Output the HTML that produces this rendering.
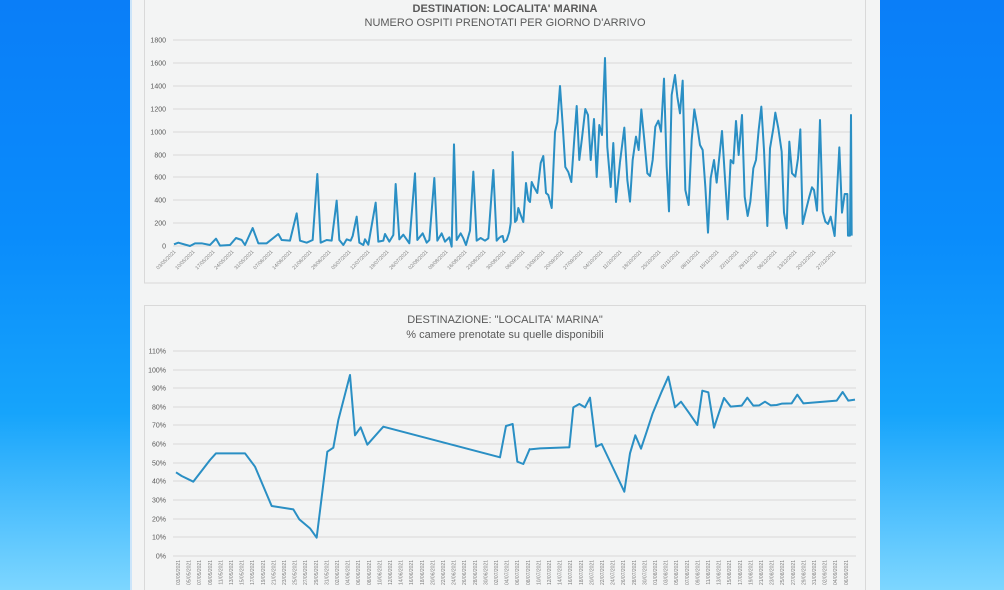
<!DOCTYPE html>
<html><head><meta charset="utf-8"><style>
html,body{margin:0;padding:0}
body{width:1004px;height:590px;overflow:hidden;background:linear-gradient(180deg,#0a7ef8 0%,#0a8cfb 40%,#16a4fb 70%,#7dd6ff 100%);font-family:"Liberation Sans",sans-serif}
svg{position:absolute;left:0;top:0}
</style></head><body>
<svg width="1004" height="590" viewBox="0 0 1004 590">
<rect x="130" y="0" width="750" height="590" fill="#f3f4f4"/>
<line x1="131" y1="0" x2="131" y2="590" stroke="#bfe0fb" stroke-width="1.5"/>
<rect x="144.5" y="-5" width="721" height="288" fill="#f3f4f4" stroke="#d9d9d9"/>
<rect x="144.5" y="305.5" width="721" height="300" fill="#f3f4f4" stroke="#d9d9d9"/>
<g font-family="Liberation Sans, sans-serif" fill="#595959" text-anchor="middle">
<text x="505" y="12" font-size="11" font-weight="bold">DESTINATION: LOCALITA' MARINA</text>
<text x="505" y="26" font-size="11">NUMERO OSPITI PRENOTATI PER GIORNO D'ARRIVO</text>
<text x="505" y="323" font-size="11">DESTINAZIONE: "LOCALITA' MARINA"</text>
<text x="505" y="338" font-size="11">% camere prenotate su quelle disponibili</text>
</g>
<g stroke="#d9d9d9" stroke-width="1">
<line x1="173" x2="852" y1="40" y2="40"/><line x1="173" x2="852" y1="63" y2="63"/><line x1="173" x2="852" y1="86" y2="86"/><line x1="173" x2="852" y1="109" y2="109"/><line x1="173" x2="852" y1="132" y2="132"/><line x1="173" x2="852" y1="155" y2="155"/><line x1="173" x2="852" y1="177" y2="177"/><line x1="173" x2="852" y1="200" y2="200"/><line x1="173" x2="852" y1="223" y2="223"/><line x1="173" x2="852" y1="246" y2="246"/>
<line x1="173" x2="856" y1="351" y2="351"/><line x1="173" x2="856" y1="370" y2="370"/><line x1="173" x2="856" y1="388" y2="388"/><line x1="173" x2="856" y1="407" y2="407"/><line x1="173" x2="856" y1="425" y2="425"/><line x1="173" x2="856" y1="444" y2="444"/><line x1="173" x2="856" y1="463" y2="463"/><line x1="173" x2="856" y1="481" y2="481"/><line x1="173" x2="856" y1="500" y2="500"/><line x1="173" x2="856" y1="519" y2="519"/><line x1="173" x2="856" y1="537" y2="537"/><line x1="173" x2="856" y1="556" y2="556"/>
</g>
<g font-size="7" fill="#595959" text-anchor="end">
<text x="166" y="42.5">1800</text><text x="166" y="65.5">1600</text><text x="166" y="88.5">1400</text><text x="166" y="111.5">1200</text><text x="166" y="134.5">1000</text><text x="166" y="157.5">800</text><text x="166" y="179.5">600</text><text x="166" y="202.5">400</text><text x="166" y="225.5">200</text><text x="166" y="248.5">0</text>
<text x="166" y="353.5">110%</text><text x="166" y="372.5">100%</text><text x="166" y="390.5">90%</text><text x="166" y="409.5">80%</text><text x="166" y="427.5">70%</text><text x="166" y="446.5">60%</text><text x="166" y="465.5">50%</text><text x="166" y="483.5">40%</text><text x="166" y="502.5">30%</text><text x="166" y="521.5">20%</text><text x="166" y="539.5">10%</text><text x="166" y="558.5">0%</text>
</g>
<g fill="none" stroke="#2a8fc4" stroke-width="2" stroke-linejoin="round">
<polyline transform="translate(130,0) scale(0.33333)" vector-effect="non-scaling-stroke" points="132,733 145,728 180,738 195,730 215,730 240,735 258,716 270,737 300,735 318,714 335,720 345,735 368,684 385,730 410,730 445,702 455,720 480,722 500,640 510,722 530,728 548,720 562,522 572,728 590,720 605,722 620,602 628,720 640,735 650,718 662,722 668,708 680,650 688,728 700,735 705,718 715,734 737,608 745,725 760,722 765,702 778,725 790,705 797,552 808,718 820,704 838,730 855,520 862,720 878,700 890,728 898,720 913,534 922,722 935,700 945,725 958,712 965,740 972,433 980,720 992,700 1000,715 1008,735 1020,692 1030,515 1040,722 1052,714 1065,722 1075,715 1090,510 1100,722 1110,711"/>
<polyline points="500,237 502.7,236 504,242 506.7,240 509.3,232 510.7,223 512.7,152 515,222 516.7,220 518.3,208 520.7,215 523.3,222 526,183 528.3,200 530,202 531.7,182 534,187 537.3,193 540.7,163 543.3,156 546,193 548.3,195 551.7,208 555,132 557.3,122 560,86 562.7,125 565.3,167 568.3,172 571.3,182 574,143 576.7,106 579.3,160 582,138 585.3,109 588,115 590.7,160 594,119 596.7,177 599.3,125 602,135 605,58 607.3,147 610.7,187 613.3,143 616,202 620,162"/>
<polyline transform="translate(600,0) scale(0.33333)" vector-effect="non-scaling-stroke" points="60,486 73,383 82,540 90,605 98,480 108,410 116,450 124,328 133,420 142,520 150,528 158,480 166,380 175,362 183,395 192,236 200,500 207,634 215,285 225,225 232,290 240,340 248,242 256,570 266,615 275,420 283,328 292,380 300,435 308,450 316,560 324,698 332,535 342,480 350,548 366,393 374,520 383,658 392,480 400,490 408,363 416,465 426,345 434,590 443,648 451,605 460,505 468,480 476,390 484,320 492,450 502,678 510,445 520,385 526,338 535,385 545,455 552,638 560,685 568,425 576,520 586,530 594,475 601,388 608,672 618,630 628,590 636,562 642,570 651,632 660,360 668,635 676,665 684,672 692,650 704,708 718,442 726,638 734,582 742,582 744,707 750,707 753,345 755,707"/>
<polyline transform="translate(130,290) scale(0.33333)" vector-effect="non-scaling-stroke" points="138,547 155,558 190,575 240,510 258,490 345,490 375,530 425,648 490,658 508,688 540,715 560,743 592,485 610,473 625,390 660,255 675,436 692,412 712,464 760,410 1110,502 1128,408 1148,402 1162,515 1180,522 1200,475"/>
<polyline transform="translate(530,290) scale(0.33333)" vector-effect="non-scaling-stroke" points="0,478 30,475 110,472 118,472 130,352 148,342 165,352 180,323 198,470 215,462 245,525 283,605 300,490 316,436 333,476 350,425 368,370 395,305 415,260 435,352 453,335 478,370 502,405 517,302 535,307 552,413 568,365 582,324 602,350 635,347 652,323 670,347 688,346 705,335 722,346 740,345 755,341 785,340 802,314 820,340 870,336 920,332 938,306 955,332 975,329"/>
</g>
<g font-size="5" fill="#7f7f7f" text-anchor="end">
<text transform="translate(176,252) rotate(-45)">03/05/2021</text><text transform="translate(195,252) rotate(-45)">10/05/2021</text><text transform="translate(215,252) rotate(-45)">17/05/2021</text><text transform="translate(234,252) rotate(-45)">24/05/2021</text><text transform="translate(254,252) rotate(-45)">31/05/2021</text><text transform="translate(273,252) rotate(-45)">07/06/2021</text><text transform="translate(292,252) rotate(-45)">14/06/2021</text><text transform="translate(312,252) rotate(-45)">21/06/2021</text><text transform="translate(331,252) rotate(-45)">28/06/2021</text><text transform="translate(351,252) rotate(-45)">05/07/2021</text><text transform="translate(370,252) rotate(-45)">12/07/2021</text><text transform="translate(389,252) rotate(-45)">19/07/2021</text><text transform="translate(409,252) rotate(-45)">26/07/2021</text><text transform="translate(428,252) rotate(-45)">02/08/2021</text><text transform="translate(448,252) rotate(-45)">09/08/2021</text><text transform="translate(467,252) rotate(-45)">16/08/2021</text><text transform="translate(486,252) rotate(-45)">23/08/2021</text><text transform="translate(506,252) rotate(-45)">30/08/2021</text><text transform="translate(525,252) rotate(-45)">06/09/2021</text><text transform="translate(545,252) rotate(-45)">13/09/2021</text><text transform="translate(564,252) rotate(-45)">20/09/2021</text><text transform="translate(583,252) rotate(-45)">27/09/2021</text><text transform="translate(603,252) rotate(-45)">04/10/2021</text><text transform="translate(622,252) rotate(-45)">11/10/2021</text><text transform="translate(642,252) rotate(-45)">18/10/2021</text><text transform="translate(661,252) rotate(-45)">25/10/2021</text><text transform="translate(680,252) rotate(-45)">01/11/2021</text><text transform="translate(700,252) rotate(-45)">08/11/2021</text><text transform="translate(719,252) rotate(-45)">15/11/2021</text><text transform="translate(739,252) rotate(-45)">22/11/2021</text><text transform="translate(758,252) rotate(-45)">29/11/2021</text><text transform="translate(777,252) rotate(-45)">06/12/2021</text><text transform="translate(797,252) rotate(-45)">13/12/2021</text><text transform="translate(816,252) rotate(-45)">20/12/2021</text><text transform="translate(836,252) rotate(-45)">27/12/2021</text>
</g>
<g font-size="5" fill="#7f7f7f" text-anchor="end">
<text transform="translate(180,560) rotate(-90)">03/05/2021</text><text transform="translate(190.6,560) rotate(-90)">05/05/2021</text><text transform="translate(201.2,560) rotate(-90)">07/05/2021</text><text transform="translate(211.8,560) rotate(-90)">09/05/2021</text><text transform="translate(222.4,560) rotate(-90)">11/05/2021</text><text transform="translate(233,560) rotate(-90)">13/05/2021</text><text transform="translate(243.6,560) rotate(-90)">15/05/2021</text><text transform="translate(254.2,560) rotate(-90)">17/05/2021</text><text transform="translate(264.8,560) rotate(-90)">19/05/2021</text><text transform="translate(275.4,560) rotate(-90)">21/05/2021</text><text transform="translate(286,560) rotate(-90)">23/05/2021</text><text transform="translate(296.6,560) rotate(-90)">25/05/2021</text><text transform="translate(307.2,560) rotate(-90)">27/05/2021</text><text transform="translate(317.8,560) rotate(-90)">29/05/2021</text><text transform="translate(328.4,560) rotate(-90)">31/05/2021</text><text transform="translate(339,560) rotate(-90)">02/06/2021</text><text transform="translate(349.6,560) rotate(-90)">04/06/2021</text><text transform="translate(360.2,560) rotate(-90)">06/06/2021</text><text transform="translate(370.8,560) rotate(-90)">08/06/2021</text><text transform="translate(381.4,560) rotate(-90)">10/06/2021</text><text transform="translate(392,560) rotate(-90)">12/06/2021</text><text transform="translate(402.6,560) rotate(-90)">14/06/2021</text><text transform="translate(413.2,560) rotate(-90)">16/06/2021</text><text transform="translate(423.8,560) rotate(-90)">18/06/2021</text><text transform="translate(434.4,560) rotate(-90)">20/06/2021</text><text transform="translate(445,560) rotate(-90)">22/06/2021</text><text transform="translate(455.6,560) rotate(-90)">24/06/2021</text><text transform="translate(466.2,560) rotate(-90)">26/06/2021</text><text transform="translate(476.8,560) rotate(-90)">28/06/2021</text><text transform="translate(487.4,560) rotate(-90)">30/06/2021</text><text transform="translate(498,560) rotate(-90)">02/07/2021</text><text transform="translate(508.6,560) rotate(-90)">04/07/2021</text><text transform="translate(519.2,560) rotate(-90)">06/07/2021</text><text transform="translate(529.8,560) rotate(-90)">08/07/2021</text><text transform="translate(540.4,560) rotate(-90)">10/07/2021</text><text transform="translate(551,560) rotate(-90)">12/07/2021</text><text transform="translate(561.6,560) rotate(-90)">14/07/2021</text><text transform="translate(572.2,560) rotate(-90)">16/07/2021</text><text transform="translate(582.8,560) rotate(-90)">18/07/2021</text><text transform="translate(593.4,560) rotate(-90)">20/07/2021</text><text transform="translate(604,560) rotate(-90)">22/07/2021</text><text transform="translate(614.6,560) rotate(-90)">24/07/2021</text><text transform="translate(625.2,560) rotate(-90)">26/07/2021</text><text transform="translate(635.8,560) rotate(-90)">28/07/2021</text><text transform="translate(646.4,560) rotate(-90)">30/07/2021</text><text transform="translate(657,560) rotate(-90)">01/08/2021</text><text transform="translate(667.6,560) rotate(-90)">03/08/2021</text><text transform="translate(678.2,560) rotate(-90)">05/08/2021</text><text transform="translate(688.8,560) rotate(-90)">07/08/2021</text><text transform="translate(699.4,560) rotate(-90)">09/08/2021</text><text transform="translate(710,560) rotate(-90)">11/08/2021</text><text transform="translate(720.6,560) rotate(-90)">13/08/2021</text><text transform="translate(731.2,560) rotate(-90)">15/08/2021</text><text transform="translate(741.8,560) rotate(-90)">17/08/2021</text><text transform="translate(752.4,560) rotate(-90)">19/08/2021</text><text transform="translate(763,560) rotate(-90)">21/08/2021</text><text transform="translate(773.6,560) rotate(-90)">23/08/2021</text><text transform="translate(784.2,560) rotate(-90)">25/08/2021</text><text transform="translate(794.8,560) rotate(-90)">27/08/2021</text><text transform="translate(805.4,560) rotate(-90)">29/08/2021</text><text transform="translate(816,560) rotate(-90)">31/08/2021</text><text transform="translate(826.6,560) rotate(-90)">02/09/2021</text><text transform="translate(837.2,560) rotate(-90)">04/09/2021</text><text transform="translate(847.8,560) rotate(-90)">06/09/2021</text>
</g>
</svg>
</body></html>
